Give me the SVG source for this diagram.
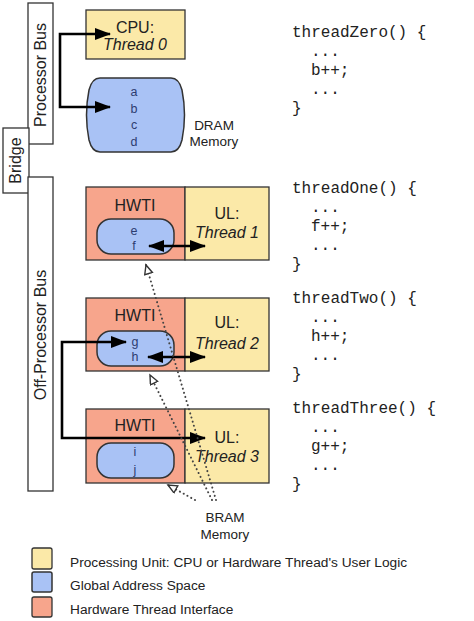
<svg xmlns="http://www.w3.org/2000/svg" width="474" height="621" viewBox="0 0 474 621">
<style>
.bus{fill:#fff;stroke:#333;stroke-width:1.3}
.pu{fill:#fbe9a8;stroke:#333;stroke-width:1.3}
.gas{fill:#a9c2f5;stroke:#333;stroke-width:1.5}
.hw{fill:#f7a58c;stroke:#333;stroke-width:1.3}
.t{font-family:"Liberation Sans",Arial,sans-serif;font-size:16px;fill:#222;text-anchor:middle}
.it{font-style:italic}
.var{font-family:"Liberation Sans",Arial,sans-serif;font-size:12.5px;fill:#2d3c70;text-anchor:middle}
.lbl{font-family:"Liberation Sans",Arial,sans-serif;font-size:13.5px;fill:#222;text-anchor:middle}
.code{font-family:"Liberation Mono","Courier New",monospace;font-size:16px;fill:#222}
.leg{font-family:"Liberation Sans",Arial,sans-serif;font-size:13.7px;fill:#222}
.arr{fill:none;stroke:#000;stroke-width:2.6}
.dot{fill:none;stroke:#444;stroke-width:2;stroke-dasharray:0.1 4.2;stroke-linecap:round}
</style>
<defs>
<marker id="ah" markerUnits="userSpaceOnUse" markerWidth="16" markerHeight="12" refX="15" refY="6" orient="auto-start-reverse">
<path d="M0,0 L16,6 L0,12 Z" fill="#000"/>
</marker>
<marker id="oh" markerUnits="userSpaceOnUse" markerWidth="12" markerHeight="10" refX="10" refY="4.5" orient="auto">
<path d="M1,0.5 L10,4.5 L1,8.5 Z" fill="#fff" stroke="#333" stroke-width="1.4"/>
</marker>
</defs>

<g id="processor-bus">
<rect class="bus" x="28" y="3" width="25" height="141"/>
<text class="t" transform="translate(46,75) rotate(-90)">Processor Bus</text>
</g>
<g id="bridge">
<rect class="bus" x="3" y="128" width="26" height="65"/>
<text class="t" transform="translate(21,160.5) rotate(-90)">Bridge</text>
</g>
<g id="off-processor-bus">
<rect class="bus" x="28" y="177" width="25" height="314"/>
<text class="t" transform="translate(46,335) rotate(-90)">Off-Processor Bus</text>
</g>

<g id="cpu">
<rect class="pu" x="86" y="10" width="99" height="49"/>
<text class="t" x="135" y="33">CPU:</text>
<text class="t it" x="135" y="50">Thread 0</text>
</g>

<g id="dram">
<path class="gas" d="M100,78 H171 Q179,78 182,90 Q187,115 182,140 Q179,152 171,152 H100 Q92,152 89,140 Q84,115 89,90 Q92,78 100,78 Z"/>
<text class="var" x="134" y="96">a</text>
<text class="var" x="134" y="113">b</text>
<text class="var" x="134" y="129">c</text>
<text class="var" x="134" y="146">d</text>
<text class="lbl" x="214" y="130">DRAM</text>
<text class="lbl" x="214" y="146">Memory</text>
</g>

<g id="thread1">
<rect class="hw" x="86" y="187" width="99" height="73"/>
<rect class="pu" x="185" y="187" width="84" height="73"/>
<text class="t" x="135" y="211">HWTI</text>
<rect class="gas" x="97" y="219" width="77" height="35" rx="14"/>
<text class="var" x="134" y="235">e</text>
<text class="var" x="134" y="250">f</text>
<text class="t" x="227" y="219">UL:</text>
<text class="t it" x="227" y="238">Thread 1</text>
</g>

<g id="thread2">
<rect class="hw" x="86" y="298" width="99" height="73"/>
<rect class="pu" x="185" y="298" width="84" height="73"/>
<text class="t" x="135" y="321">HWTI</text>
<rect class="gas" x="97" y="331" width="77" height="35" rx="14"/>
<text class="var" x="135" y="346">g</text>
<text class="var" x="135" y="361">h</text>
<text class="t" x="227" y="328">UL:</text>
<text class="t it" x="227" y="349">Thread 2</text>
</g>

<g id="thread3">
<rect class="hw" x="86" y="409" width="99" height="74"/>
<rect class="pu" x="185" y="409" width="84" height="74"/>
<text class="t" x="135" y="431">HWTI</text>
<rect class="gas" x="97" y="443" width="77" height="35" rx="14"/>
<text class="var" x="135" y="456" fill="#5a70b0">i</text>
<text class="var" x="135" y="474" fill="#5a70b0">j</text>
<text class="t" x="227" y="443">UL:</text>
<text class="t it" x="227" y="462">Thread 3</text>
</g>

<g id="bram">
<text class="lbl" x="225" y="522">BRAM</text>
<text class="lbl" x="225" y="539">Memory</text>
</g>

<g id="connectors">
<path class="arr" d="M110,34 H60 V107 H110" marker-start="url(#ah)" marker-end="url(#ah)"/>
<path class="arr" d="M149,246 H205" marker-start="url(#ah)" marker-end="url(#ah)"/>
<path class="arr" d="M148,357 H205" marker-start="url(#ah)" marker-end="url(#ah)"/>
<path class="arr" d="M126,342 H62 V438 H205" marker-start="url(#ah)" marker-end="url(#ah)"/>
<path class="dot" d="M216,500 L146,265" marker-end="url(#oh)"/>
<path class="dot" d="M212,500 L150,375" marker-end="url(#oh)"/>
<path class="dot" d="M195,500 L168,485" marker-end="url(#oh)"/>
</g>

<g id="code">
<text class="code" x="292" y="37">threadZero() {</text>
<text class="code" x="311" y="56">...</text>
<text class="code" x="311" y="75">b++;</text>
<text class="code" x="311" y="94">...</text>
<text class="code" x="292" y="113">}</text>
<text class="code" x="292" y="193">threadOne() {</text>
<text class="code" x="311" y="212">...</text>
<text class="code" x="311" y="231">f++;</text>
<text class="code" x="311" y="250">...</text>
<text class="code" x="292" y="269">}</text>
<text class="code" x="292" y="303">threadTwo() {</text>
<text class="code" x="311" y="322">...</text>
<text class="code" x="311" y="341">h++;</text>
<text class="code" x="311" y="360">...</text>
<text class="code" x="292" y="379">}</text>
<text class="code" x="292" y="413">threadThree() {</text>
<text class="code" x="311" y="432">...</text>
<text class="code" x="311" y="451">g++;</text>
<text class="code" x="311" y="470">...</text>
<text class="code" x="292" y="489">}</text>
</g>

<g id="legend">
<rect class="pu" x="32" y="548" width="20" height="21" rx="2"/>
<rect class="gas" x="32" y="572" width="20" height="20" rx="2"/>
<rect class="hw" x="32" y="597" width="20" height="20" rx="2"/>
<text class="leg" x="70" y="567">Processing Unit: CPU or Hardware Thread's User Logic</text>
<text class="leg" x="70" y="590">Global Address Space</text>
<text class="leg" x="70" y="614">Hardware Thread Interface</text>
</g>
</svg>
